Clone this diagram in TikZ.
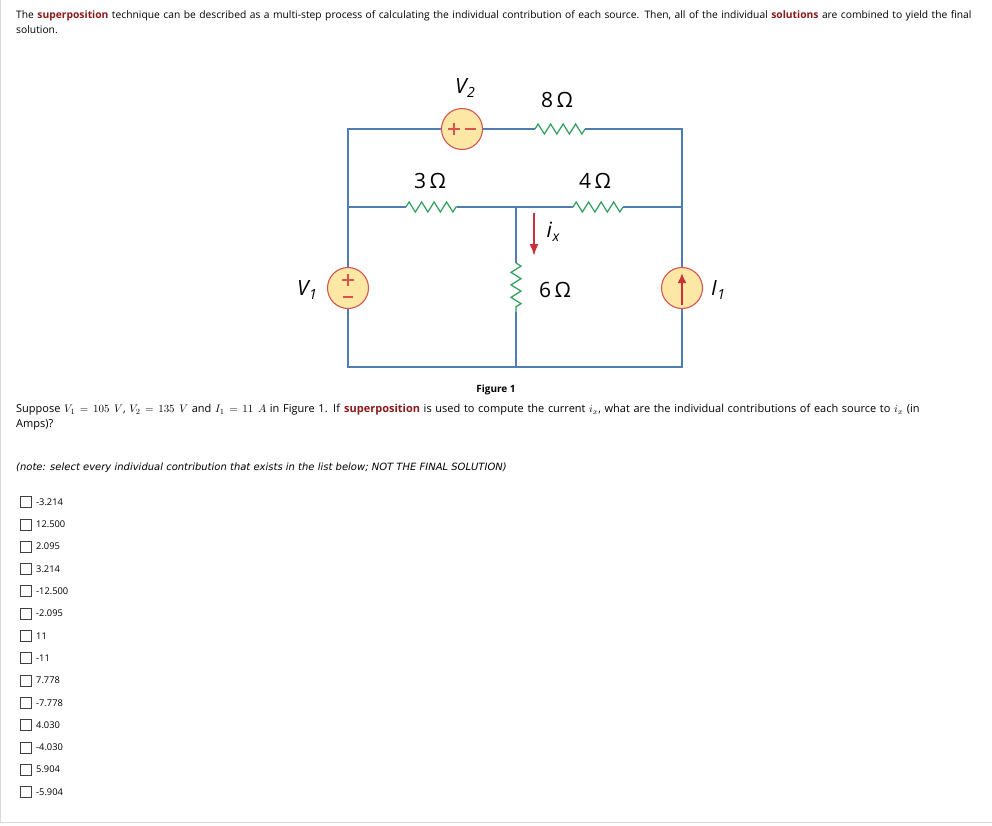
\documentclass[tikz,border=0pt]{standalone}
\usepackage{fontspec}
\setmainfont{Open Sans}
\newfontfamily\notefont{DejaVu Sans}
\usetikzlibrary{decorations.pathmorphing,arrows.meta}
\definecolor{wire}{HTML}{4F7DB3}
\definecolor{res}{HTML}{2E9E5A}
\definecolor{srcfill}{HTML}{FCE7A4}
\definecolor{srcedge}{HTML}{D9534F}
\definecolor{arr}{HTML}{C8303A}
\definecolor{hl}{HTML}{8B1A1A}
\newcommand{\sym}[2]{{\itshape #1}\kern0.5pt\raisebox{-3.5pt}{\fontsize{14}{14}\selectfont\itshape #2}}
\begin{document}
\begin{tikzpicture}[x=1pt,y=-1pt,
 wirel/.style={draw=wire,line width=1.3pt},
 resl/.style={draw=res,line width=1.2pt,decorate,decoration={zigzag,segment length=12.5pt,amplitude=5pt}},
 src/.style={circle,draw=srcedge,fill=srcfill,line width=1.1pt,minimum size=41pt,inner sep=0pt},
 sgn/.style={draw=srcedge,line width=1.4pt},
 lab/.style={font=\fontsize{21}{21}\selectfont,inner sep=0pt},
 txt/.style={font=\fontsize{10.3}{15}\selectfont,inner sep=0pt,anchor=north west,align=left},
 cb/.style={draw=black!75,line width=0.6pt,minimum size=11pt,inner sep=0pt},
 cbl/.style={font=\fontsize{9.3}{10}\selectfont,inner sep=0pt,anchor=west}]
\useasboundingbox (0,0) rectangle (992,825);
\fill[white] (0,0) rectangle (992,825);
\draw[black!15,line width=1pt] (0.5,0) -- (0.5,822.5) -- (992,822.5);
\node[txt,text width=968pt] (intro) at (16,10) {The \textbf{\color{hl}superposition} technique can be described as a multi-step process of calculating the individual contribution of each source. Then, all of the individual \textbf{\color{hl}solutions} are combined to yield the final solution.};
% circuit
\coordinate (tl) at (348,129); \coordinate (tr) at (682,129);
\coordinate (ml) at (348,207); \coordinate (mm) at (516,207); \coordinate (mr) at (682,207);
\coordinate (bl) at (348,367); \coordinate (bm) at (516,367); \coordinate (br) at (682,367);
\coordinate (r8a) at (535,129); \coordinate (r8b) at (585,129);
\coordinate (r3a) at (406,207); \coordinate (r3b) at (457,207);
\coordinate (r4a) at (573,207); \coordinate (r4b) at (623,207);
\coordinate (r6a) at (516,263); \coordinate (r6b) at (516,312);
\node[src] (v2) at (462,129) {};
\node[src] (v1) at (348,288) {};
\node[src] (i1) at (682,288) {};
\draw[wirel] (v1.north) -- (tl) -- (v2.west);
\draw[wirel] (v2.east) -- (r8a);
\draw[wirel] (r8b) -- (tr) -- (i1.north);
\draw[wirel] (i1.south) -- (br) -- (bl) -- (v1.south);
\draw[wirel] (ml) -- (r3a); \draw[wirel] (r3b) -- (r4a); \draw[wirel] (r4b) -- (mr);
\draw[wirel] (mm) -- (r6a); \draw[wirel] (r6b) -- (bm);
\draw[resl] (r8a) -- (r8b);
\draw[resl] (r3a) -- (r3b);
\draw[resl] (r4a) -- (r4b);
\draw[resl] (r6a) -- (r6b);
\draw[sgn] ([xshift=-14pt]v2.center) -- ([xshift=-2pt]v2.center) ([xshift=-8pt,yshift=-6pt]v2.center) -- ([xshift=-8pt,yshift=6pt]v2.center);
\draw[sgn] ([xshift=3pt]v2.center) -- ([xshift=14pt]v2.center);
\draw[sgn] ([xshift=-6pt,yshift=8pt]v1.center) -- ([xshift=6pt,yshift=8pt]v1.center) ([yshift=14pt]v1.center) -- ([yshift=2pt]v1.center);
\draw[sgn] ([xshift=-5pt,yshift=-9pt]v1.center) -- ([xshift=5pt,yshift=-9pt]v1.center);
\coordinate (ia) at (682,305); \coordinate (ib) at (682,273);
\draw[arr,line width=2pt,-{Latex[length=10pt,width=9pt]}] (ia) -- (ib);
\coordinate (xa) at (534,213); \coordinate (xb) at (534,256);
\draw[arr,line width=2pt,-{Latex[length=12pt,width=9pt]}] (xa) -- (xb);
\node[lab] (lv2) at (465,88) {\sym{V}{2}};
\node[lab] (l8) at (557,100) {8\,Ω};
\node[lab] (l3) at (430,181) {3\,Ω};
\node[lab] (l4) at (595,181) {4\,Ω};
\node[lab] (lix) at (553,232) {\sym{i}{x}};
\node[lab] (l6) at (555,290) {6\,Ω};
\node[lab] (lv1) at (307,290) {\sym{V}{1}};
\node[lab] (li1) at (718,290) {\sym{I}{1}};
\node[font=\bfseries\fontsize{10}{10}\selectfont,inner sep=0pt] (fig) at (496,390) {Figure 1};
\node[txt,font=\fontsize{11}{15}\selectfont,text width=915pt] (q) at (16,404) {Suppose $V_1=105\;V$, $V_2=135\;V$ and $I_1=11\;A$ in Figure 1. If \textbf{\color{hl}superposition} is used to compute the current $i_x$, what are the individual contributions of each source to $i_x$ (in Amps)?};
\node[txt,font=\notefont\itshape\fontsize{10}{13}\selectfont] (note) at (16,463) {(note: select every individual contribution that exists in the list below; NOT THE FINAL SOLUTION)};
\foreach \v [count=\i from 0] in {-3.214,12.500,2.095,3.214,-12.500,-2.095,11,-11,7.778,-7.778,4.030,-4.030,5.904,-5.904}{
 \node[cb] (c\i) at (26,{502+22.3*\i}) {};
 \node[cbl] (t\i) at (36,{502+22.3*\i}) {\v};
}
\end{tikzpicture}
\end{document}
